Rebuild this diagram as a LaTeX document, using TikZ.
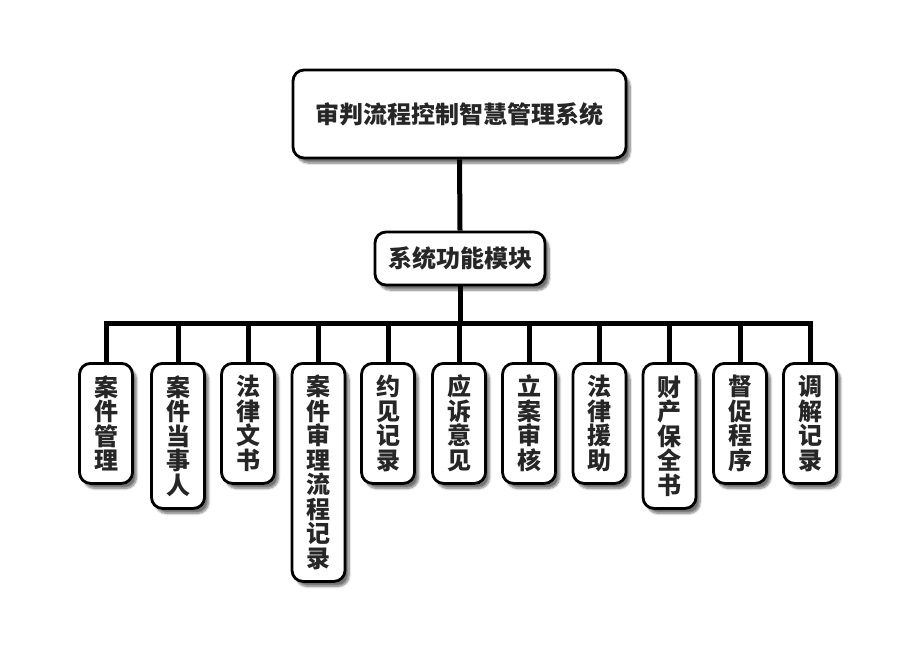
\documentclass[tikz,border=0pt]{standalone}
\usepackage{fontspec}
\setmainfont{Noto Sans CJK SC}
\usetikzlibrary{shadows.blur,backgrounds}
\begin{document}
\begin{tikzpicture}[x=1pt,y=-1pt,
  box/.style={draw=black, line width=2.8pt, fill=white, rounded corners=11pt,
    blur shadow={shadow xshift=4pt, shadow yshift=-5pt, shadow blur steps=8, shadow opacity=55},
    text=black!85, font=\bfseries\fontsize{24}{24.5}\selectfont, inner sep=0pt},
  leaf/.style={box, anchor=north, minimum width=53pt, align=center},
  conn/.style={line width=5pt, draw=black}]
\useasboundingbox (0,0) rectangle (917,656);
\node[box, minimum width=333pt, minimum height=88pt] (top) at (459.5,114) {审判流程控制智慧管理系统};
\node[box, minimum width=170pt, minimum height=53pt] (mid) at (460,258.5) {系统功能模块};
\coordinate (bus) at (460,323);
\node[leaf, minimum height=120pt] (c1) at (106,362) {案\\件\\管\\理};
\node[leaf, minimum height=145pt] (c2) at (178,362) {案\\件\\当\\事\\人};
\node[leaf, minimum height=120pt] (c3) at (248,362) {法\\律\\文\\书};
\node[leaf, minimum height=218pt] (c4) at (318.5,362) {案\\件\\审\\理\\流\\程\\记\\录};
\node[leaf, minimum height=120pt] (c5) at (388,362) {约\\见\\记\\录};
\node[leaf, minimum height=120pt] (c6) at (459,362) {应\\诉\\意\\见};
\node[leaf, minimum height=120pt] (c7) at (529,362) {立\\案\\审\\核};
\node[leaf, minimum height=120pt] (c8) at (599.5,362) {法\\律\\援\\助};
\node[leaf, minimum height=145pt] (c9) at (669.5,362) {财\\产\\保\\全\\书};
\node[leaf, minimum height=120pt] (c10) at (740,362) {督\\促\\程\\序};
\node[leaf, minimum height=120pt] (c11) at (810,362) {调\\解\\记\\录};
\begin{scope}[on background layer]
\draw[conn] (top.south) -- (mid.north);
\foreach \c in {c1,c2,c3,c4,c5,c6,c7,c8,c9,c10,c11}
  \draw[conn] (mid.south) -- (mid.south |- bus) -| (\c.north);
\end{scope}
\end{tikzpicture}
\end{document}
